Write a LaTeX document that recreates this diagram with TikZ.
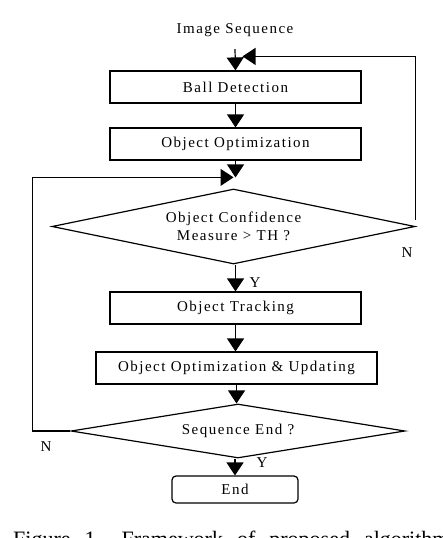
\documentclass[tikz,border=0pt]{standalone}
\usepackage{fontspec}
\setmainfont{Liberation Serif}
\newfontfamily\flowfont[LetterSpace=10]{Liberation Serif}
\usetikzlibrary{shapes.geometric,arrows.meta}

\tikzset{
  stepbox/.style={draw, line width=1.2pt, minimum width=251pt, minimum height=32pt,
    inner sep=0pt, font=\flowfont\fontsize{15}{18}\selectfont},
  testbox/.style={diamond, draw, line width=1.2pt, inner sep=0pt, align=center,
    font=\flowfont\fontsize{15}{18}\selectfont},
  mark label/.style={font=\fontsize{15}{18}\selectfont, inner sep=0pt},
  flow/.style={->, line width=1.2pt},
}

\begin{document}
\begin{tikzpicture}[x=1pt, y=-1pt, >={Triangle[width=17pt,length=13pt]}]
        \useasboundingbox (0,0) rectangle (442,538);
        \clip (0,0) rectangle (442,538);

        % Main chain
        \node[font=\flowfont\fontsize{15}{18}\selectfont] (img) at (235,30) {Image Sequence};
        \node[stepbox] (ball) at (235.5,87) {Ball Detection};
        \node[stepbox] (opt) at (235.5,144) {Object Optimization};
        \node[testbox, minimum width=363pt, minimum height=75pt, aspect=4.84] (conf) at (233.5,226.5)
            {Object Confidence\\Measure > TH ?};
        \node[stepbox] (track) at (235.5,308) {Object Tracking};
        \node[stepbox, minimum width=281pt] (update) at (236.5,368) {Object Optimization \& Updating};
        \node[testbox, minimum width=334pt, minimum height=54pt, aspect=6.2] (seqend) at (238,431)
            {Sequence End ?};
        \node[stepbox, minimum width=126pt, minimum height=27pt, rounded corners=4pt] (finish) at (235,489.5) {End};

        % Connectors
        \draw[flow] ([yshift=-9pt]img.south) -- (ball.north);
        \draw[flow] (ball.south) -- (opt.north);
        \draw[flow] (opt.south) -- ([yshift=11pt]opt.south |- conf.north);
        \draw[flow] (conf.south -| track.north) -- (track.north);
        \draw[flow] (track.south) -- (track.south |- update.north);
        \draw[flow] (update.south) -- (update.south |- seqend.north);
        \draw[flow] (seqend.south -| finish.north) -- (finish.north);

        % Loops
        \draw[flow] ([yshift=7pt]conf.east) |- ([xshift=7pt,yshift=14pt]ball.north);
        \draw[flow] (seqend.west) -- ++(-38,0) |- ([yshift=11pt]conf.north);

        % Branch labels
        \node[mark label] (n1) at (407,253) {N};
        \node[mark label] (y1) at (255,283) {Y};
        \node[mark label] (n2) at (46,447) {N};
        \node[mark label] (y2) at (262,463) {Y};

        % Caption (cut off at the bottom)
        \node[anchor=base west, inner sep=0pt, font=\fontsize{22}{26}\selectfont] (caption) at (13,546.6)
            {\spaceskip=14pt Figure 1.\hspace{20.5pt}Framework of proposed algorithm};
    \end{tikzpicture}
\end{document}
